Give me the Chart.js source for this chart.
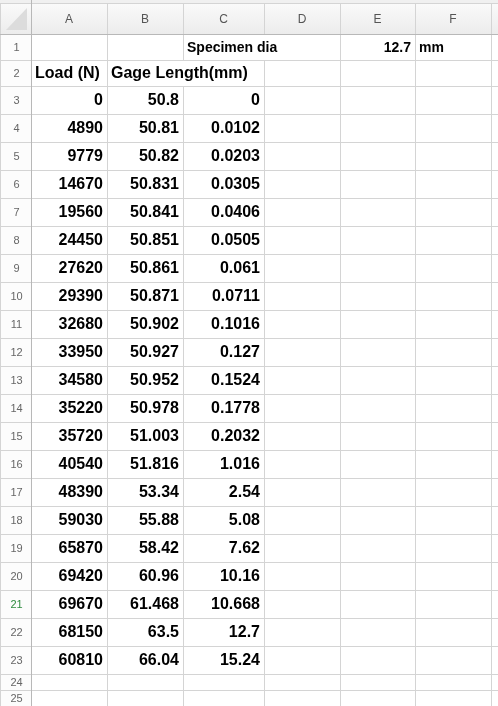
<!DOCTYPE html>
<html><head><meta charset="utf-8">
<script src="https://cdn.jsdelivr.net/npm/chart.js@4/dist/chart.umd.min.js"></script>
<style>html,body{margin:0;padding:0;background:#fff}#w{width:498px;height:706px}</style>
</head><body><div id="w"><canvas id="c"></canvas></div>
<script>
const columnLetters = ['A','B','C','D','E','F'];
const loadN = [0,4890,9779,14670,19560,24450,27620,29390,32680,33950,34580,35220,35720,40540,48390,59030,65870,69420,69670,68150,60810];
const gageLength = ['50.8','50.81','50.82','50.831','50.841','50.851','50.861','50.871','50.902','50.927','50.952','50.978','51.003','51.816','53.34','55.88','58.42','60.96','61.468','63.5','66.04'];
const extension = ['0','0.0102','0.0203','0.0305','0.0406','0.0505','0.061','0.0711','0.1016','0.127','0.1524','0.1778','0.2032','1.016','2.54','5.08','7.62','10.16','10.668','12.7','15.24'];
const headers = ['Load (N)','Gage Length(mm)'];
const specimenLabel = 'Specimen dia', specimenValue = '12.7', specimenUnit = 'mm';

const colEdges = [0,31,107,183,264,340,415,491,498];
const rowEdges = [3,34,60,86];
for (let i=0;i<21;i++) rowEdges.push(rowEdges[rowEdges.length-1]+28);
rowEdges.push(690, 706);
// vertical line segments hidden by overflowing text: [colEdgeIndex,row]
const hidden = [[4,1],[3,2]];

const sheet = {
  id:'sheet',
  beforeDraw(chart){
    const ctx=chart.ctx, xs=chart.scales.x, ys=chart.scales.y;
    const X=v=>xs.getPixelForValue(v), Y=v=>ys.getPixelForValue(v);
    ctx.save();
    ctx.fillStyle='#fff'; ctx.fillRect(0,0,chart.width,chart.height);
    const g=ctx.createLinearGradient(0,Y(rowEdges[0]),0,Y(rowEdges[1]));
    g.addColorStop(0,'#fafafa'); g.addColorStop(1,'#ececec');
    ctx.fillStyle=g; ctx.fillRect(X(0),Y(rowEdges[0]),X(498)-X(0),Y(rowEdges[1])-Y(rowEdges[0]));
    ctx.fillStyle='#f0f0f0'; ctx.fillRect(0,0,chart.width,Y(rowEdges[0]));
    ctx.fillStyle='#fcfcfc'; ctx.fillRect(X(0),Y(rowEdges[1]),X(colEdges[1])-X(0),Y(706)-Y(rowEdges[1]));
    ctx.fillStyle='#dcdcdc'; ctx.beginPath();
    ctx.moveTo(X(27),Y(8)); ctx.lineTo(X(27),Y(30)); ctx.lineTo(X(6),Y(30)); ctx.closePath(); ctx.fill();
    ctx.strokeStyle='#d4d4d4'; ctx.lineWidth=1;
    colEdges.forEach((c,ci)=>{
      for(let r=0;r<rowEdges.length-1;r++){
        if(hidden.some(h=>h[0]===ci&&h[1]===r)) continue;
        ctx.beginPath();ctx.moveTo(Math.round(X(c))+0.5,Y(rowEdges[r]));ctx.lineTo(Math.round(X(c))+0.5,Y(rowEdges[r+1]));ctx.stroke();
      }
    });
    rowEdges.forEach(r=>{ctx.beginPath();ctx.moveTo(X(0),Math.round(Y(r))+0.5);ctx.lineTo(X(498),Math.round(Y(r))+0.5);ctx.stroke();});
    ctx.strokeStyle='#b8b8b8';
    ctx.beginPath();ctx.moveTo(0,Math.round(Y(rowEdges[1]))+0.5);ctx.lineTo(498,Math.round(Y(rowEdges[1]))+0.5);ctx.stroke();
    ctx.beginPath();ctx.moveTo(Math.round(X(colEdges[1]))+0.5,0);ctx.lineTo(Math.round(X(colEdges[1]))+0.5,706);ctx.stroke();
    const mid=i=>(Y(rowEdges[i])+Y(rowEdges[i+1]))/2;
    ctx.textBaseline='middle';
    ctx.font='12px "Liberation Sans", Arial'; ctx.fillStyle='#555'; ctx.textAlign='center';
    columnLetters.forEach((l,i)=>ctx.fillText(l,(X(colEdges[i+1])+X(colEdges[i+2]))/2,mid(0)+1));
    ctx.font='11px "Liberation Sans", Arial';
    for(let r=1;r<rowEdges.length-1;r++){
      ctx.fillStyle = r===21 ? '#2e8b3e' : '#666';
      ctx.fillText(String(r),X(colEdges[1])/2+1,mid(r)+1);
    }
    const cell=(col,row,txt,align,font)=>{
      ctx.font=font; ctx.fillStyle='#000'; ctx.textAlign=align;
      const x = align==='right'?X(colEdges[col+2])-4:X(colEdges[col+1])+4;
      ctx.fillText(txt,x,mid(row)+1);
    };
    const f13='bold 14px "Liberation Sans", Arial', f15='bold 16px "Liberation Sans", Arial';
    cell(2,1,specimenLabel,'left',f13);
    cell(4,1,specimenValue,'right',f13);
    cell(5,1,specimenUnit,'left',f13);
    cell(0,2,headers[0],'left',f15);
    cell(1,2,headers[1],'left',f15);
    for(let i=0;i<loadN.length;i++){
      cell(0,i+3,String(loadN[i]),'right',f15);
      cell(1,i+3,gageLength[i],'right',f15);
      cell(2,i+3,extension[i],'right',f15);
    }
    ctx.restore();
  }
};
new Chart(document.getElementById('c'),{
  type:'scatter',
  data:{datasets:[{data:[],pointRadius:0}]},
  options:{responsive:true,maintainAspectRatio:false,animation:false,
    layout:{padding:0},
    plugins:{legend:{display:false},tooltip:{enabled:false}},
    scales:{x:{type:'linear',min:0,max:498,display:false},
            y:{type:'linear',min:0,max:706,reverse:true,display:false}}},
  plugins:[sheet]
});
</script></body></html>
